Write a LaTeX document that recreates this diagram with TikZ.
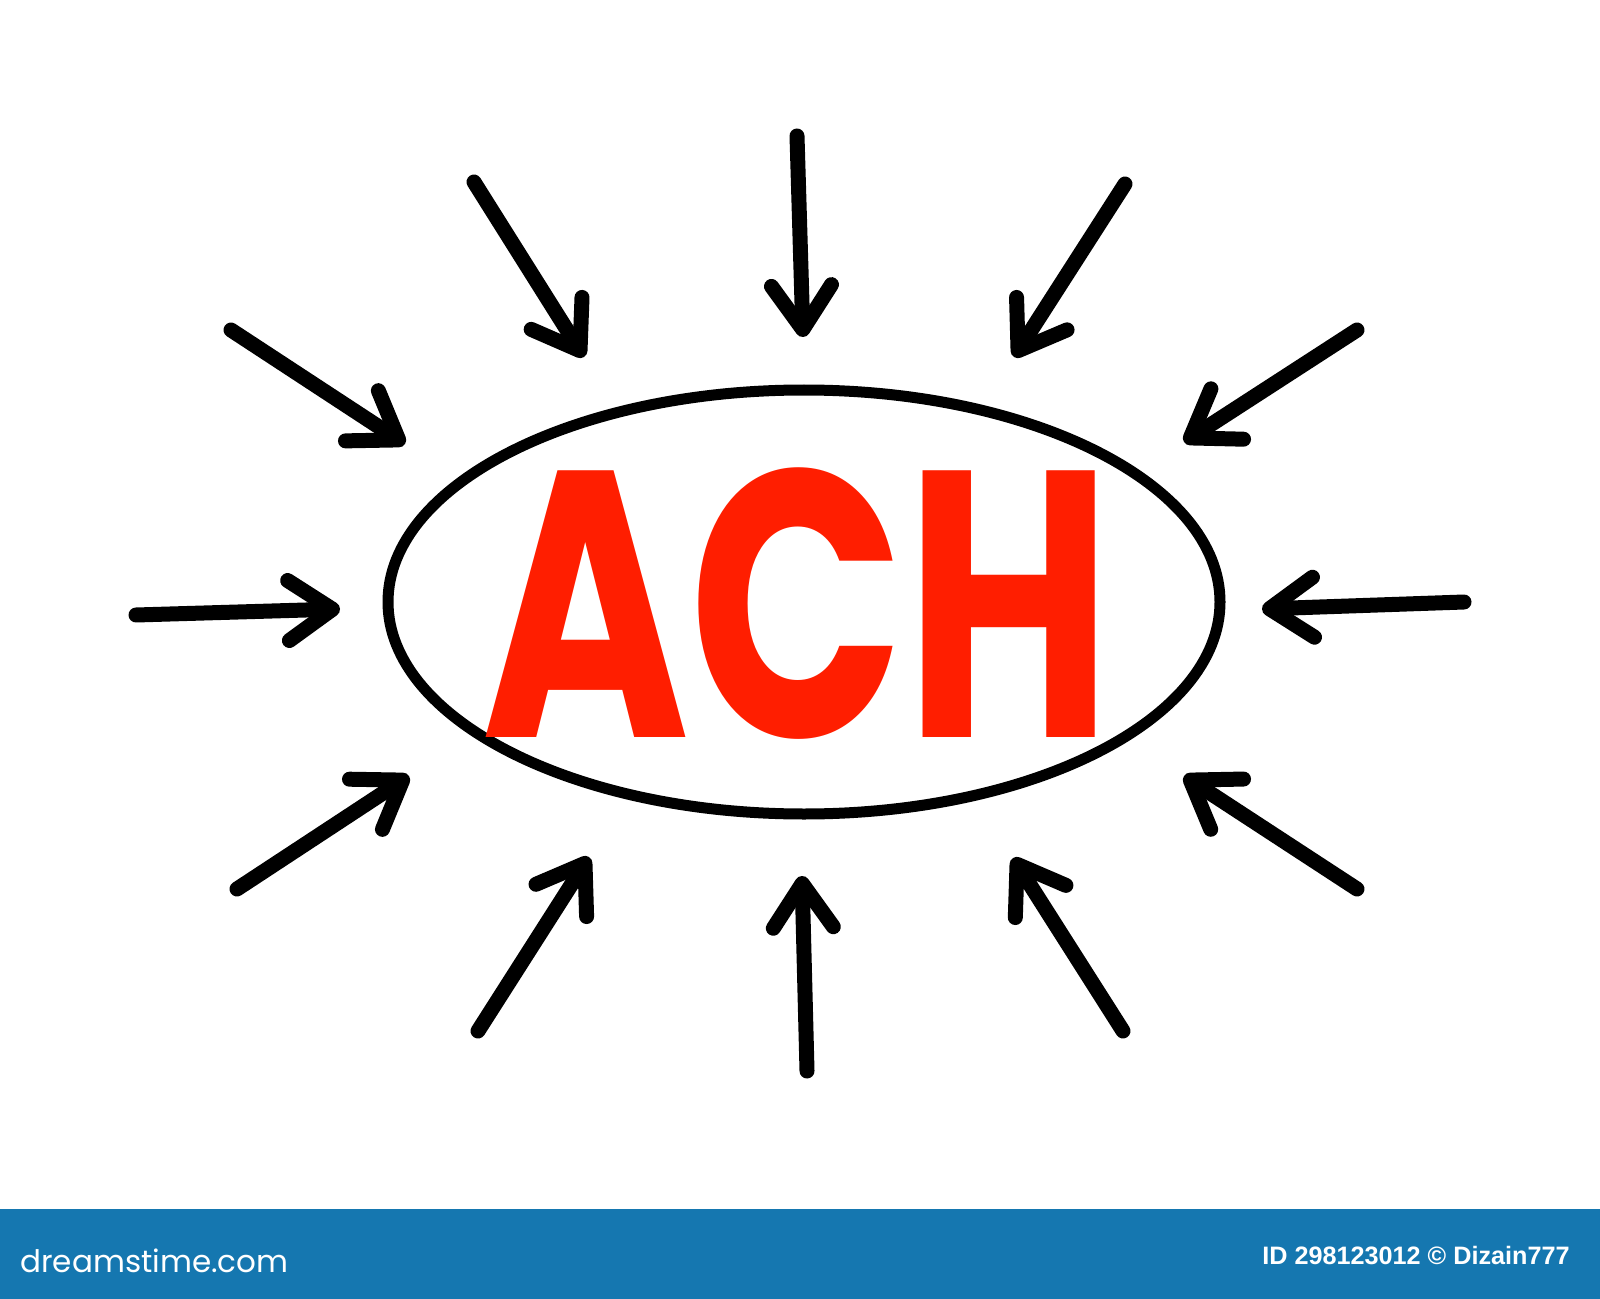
\documentclass[tikz,border=0pt]{standalone}
\usepackage{fontspec}
\setmainfont{Poppins}
\newfontfamily\logofont{Poppins}
\newfontfamily\idfont{Liberation Sans}
\usetikzlibrary{arrows.meta,shapes.geometric}
\definecolor{achred}{RGB}{255,30,0}
\definecolor{barblue}{RGB}{21,119,176}
\tikzset{
  inarrow/.style={line width=7.5pt, line cap=round, line join=round,
    -{Straight Barb[length=22pt,width=30pt,line cap=round,line join=round]}},
  ring/.style={ellipse, draw, line width=5.5pt, minimum width=416pt,
    minimum height=212pt, inner sep=0pt},
}
\begin{document}
\begin{tikzpicture}[x=0.5pt,y=-0.5pt]
  \useasboundingbox (0,0) rectangle (1600,1299);
  \fill[white] (0,0) rectangle (1600,1299);
  \node[ring] (ell) at (804,602) {};
  \node[text=achred, font=\bfseries\fontsize{190}{190}\selectfont, inner sep=0pt] (ach)
    at (797,604) {\scalebox{0.745}[1]{ACH}};
  % twelve arrows pointing in
  \foreach \n/\tx/\ty/\hx/\hy in {1/797/136/803/337, 2/474/182/584/357, 3/1125/184/1014/357,
      4/231/330/405/444, 5/1357/330/1184/442, 6/136/615/340/609, 7/1464/602/1262/609,
      8/237/889/409/776, 9/1357/889/1184/776, 10/478/1031/589/857, 11/807/1071/802/876,
      12/1123/1031/1013/858}{
    \coordinate (t\n) at (\tx,\ty);
    \coordinate (h\n) at (\hx,\hy);
    \draw[inarrow] (t\n) -- (h\n);
  }
  % bottom bar
  \fill[barblue] (0,1209) rectangle (1600,1299);
  \node[white, anchor=west, inner sep=0pt, font=\logofont\fontsize{15.5}{16}\selectfont] (logo)
    at (20,1261) {dreamstime.com};
  \node[white, anchor=east, inner sep=0pt, font=\idfont\bfseries\fontsize{12.6}{13}\selectfont] (imgid)
    at (1570,1256) {ID 298123012 © Dizain777};
\end{tikzpicture}
\end{document}
